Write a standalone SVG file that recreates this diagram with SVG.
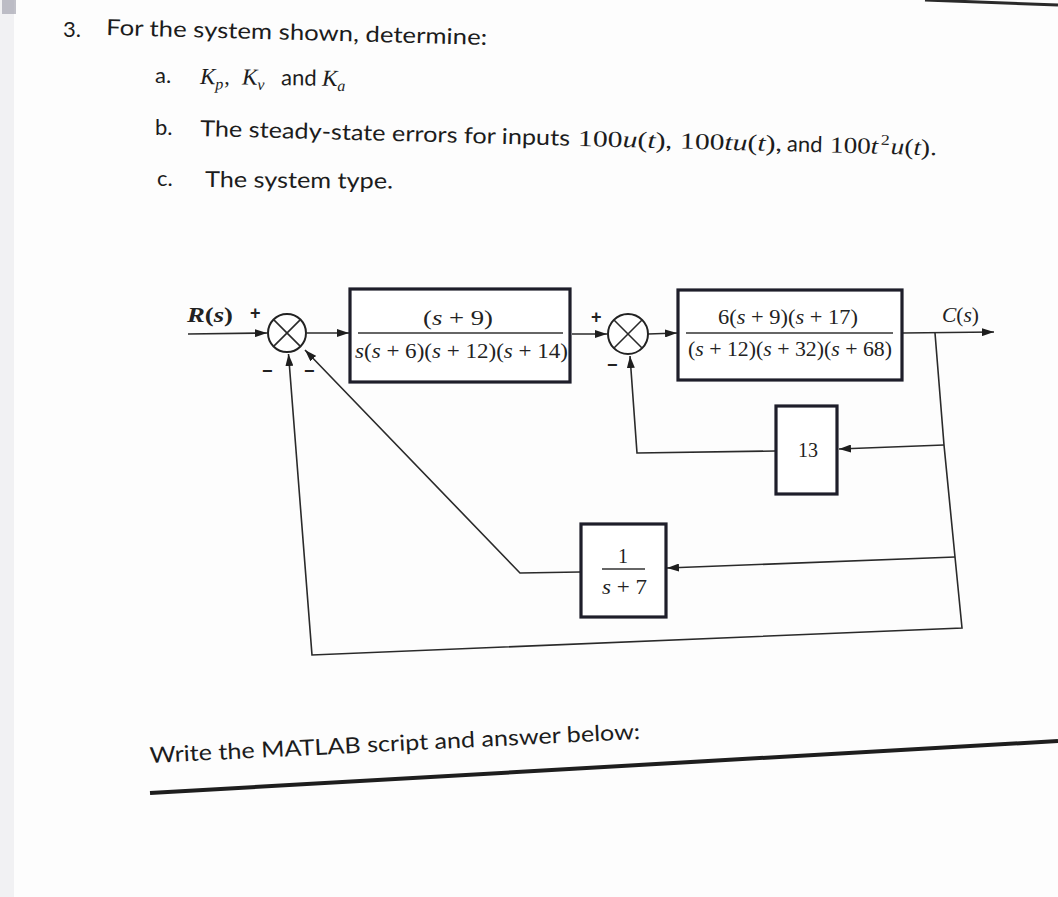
<svg xmlns="http://www.w3.org/2000/svg" width="1058" height="897" viewBox="0 0 1058 897">
<style>
.q{font-family:"Lato","Open Sans","Liberation Sans",sans-serif;font-size:22px;fill:#1c1c1c}
.m{font-family:"Liberation Serif","DejaVu Serif",serif;font-size:23px;fill:#1c1c1c}
.i{font-style:italic}
.bt{font-family:"Liberation Serif","Times New Roman",serif;font-size:20px;fill:#222}
.lbl{font-family:"Liberation Serif","Times New Roman",serif;font-size:20px;fill:#222}
.pm{font-family:"Liberation Sans",sans-serif;font-size:18px;font-weight:bold;fill:#222}
.box{fill:#fff;stroke:#1e1e2a;stroke-width:3.2}
.sum{fill:#fff;stroke:#222;stroke-width:2}
.w{fill:none;stroke:#2a2a2a;stroke-width:1.6}
.frac{stroke:#333;stroke-width:1.3}
</style>
<defs>
<marker id="ah" viewBox="0 0 12 8" refX="12" refY="4" markerWidth="12" markerHeight="8" markerUnits="userSpaceOnUse" orient="auto">
<path d="M0,0 L12,4 L0,8 Z" fill="#1e1e1e"/>
</marker>
</defs>
<rect width="1058" height="897" fill="#fdfdfd"/>
<rect x="0" y="0" width="14" height="897" fill="#e9e9ec" opacity="0.6"/>
<rect x="2" y="0" width="14" height="14" fill="#9a9aa6" opacity="0.6"/>
<line x1="925" y1="0" x2="1058" y2="5" stroke="#2a2a2a" stroke-width="3"/>

<g id="question">
<text class="q" x="63" y="37" font-size="20">3.</text>
<text class="q" x="106" y="35" transform="rotate(1.5 106 35)" textLength="381" lengthAdjust="spacingAndGlyphs">For the system shown, determine:</text>
<text class="q" x="155" y="83">a.</text>
<g transform="rotate(0.8 200 84)">
<text class="m i" x="200" y="84" font-size="25">K<tspan font-size="16" dy="5">p</tspan><tspan dy="-5" dx="1" font-style="normal" font-size="22">,</tspan></text>
<text class="m i" x="242" y="84" font-size="25">K<tspan font-size="16" dy="5">v</tspan></text>
<text class="q" x="281" y="84">and</text>
<text class="m i" x="322" y="84" font-size="25">K<tspan font-size="16" dy="5">a</tspan></text>
</g>
<text class="q" x="155" y="135">b.</text>
<g transform="rotate(1.5 200 136)">
<text class="q" x="200" y="136" textLength="370" lengthAdjust="spacingAndGlyphs">The steady-state errors for inputs</text>
<text class="m" x="578" y="136" textLength="94" lengthAdjust="spacingAndGlyphs">100<tspan class="i">u</tspan>(<tspan class="i">t</tspan>)<tspan class="q">,</tspan></text>
<text class="m" x="680" y="136" textLength="102" lengthAdjust="spacingAndGlyphs">100<tspan class="i">tu</tspan>(<tspan class="i">t</tspan>)<tspan class="q">,</tspan></text>
<text class="q" x="787" y="136">and</text>
<text class="m" x="830" y="136" textLength="107" lengthAdjust="spacingAndGlyphs">100<tspan class="i">t</tspan><tspan font-size="15" dy="-9" dx="2">2</tspan><tspan class="i" dy="9" dx="1">u</tspan>(<tspan class="i">t</tspan>).</text>
</g>
<text class="q" x="157" y="186">c.</text>
<text class="q" x="205" y="187" transform="rotate(0.5 205 187)" textLength="188" lengthAdjust="spacingAndGlyphs">The system type.</text>
</g>

<g id="connectors">
<line class="w" x1="188" y1="334" x2="267" y2="333" marker-end="url(#ah)"/>
<line class="w" x1="307" y1="333" x2="349" y2="333" marker-end="url(#ah)"/>
<line class="w" x1="572" y1="334" x2="607" y2="334" marker-end="url(#ah)"/>
<line class="w" x1="648" y1="334" x2="677" y2="333" marker-end="url(#ah)"/>
<line class="w" x1="903" y1="333" x2="994" y2="332" marker-end="url(#ah)"/>
<polyline class="w" points="935,333 944,445 955,557 962,628 312,655 288.5,354" marker-end="url(#ah)"/>
<line class="w" x1="944" y1="445" x2="839" y2="449" marker-end="url(#ah)"/>
<polyline class="w" points="775,451 637,453 630,356" marker-end="url(#ah)"/>
<line class="w" x1="955" y1="557" x2="667" y2="568" marker-end="url(#ah)"/>
<polyline class="w" points="580,572 520,573 305,350" marker-end="url(#ah)"/>
</g>

<g id="labels">
<text class="lbl" x="187" y="322" font-weight="bold" font-size="21" textLength="46" lengthAdjust="spacingAndGlyphs"><tspan font-style="italic">R</tspan>(<tspan font-style="italic">s</tspan>)</text>
<text class="lbl" x="942" y="322" textLength="37" lengthAdjust="spacingAndGlyphs"><tspan font-style="italic">C</tspan>(<tspan font-style="italic">s</tspan>)</text>
</g>

<g id="sum1">
<circle class="sum" cx="287" cy="333" r="19"/>
<line class="w" x1="273.6" y1="319.6" x2="300.4" y2="346.4"/>
<line class="w" x1="300.4" y1="319.6" x2="273.6" y2="346.4"/>
<text class="pm" x="250" y="319">+</text>
<text class="pm" x="262" y="377">−</text>
<text class="pm" x="304" y="377">−</text>
</g>

<g id="sum2">
<circle class="sum" cx="628" cy="334" r="20"/>
<line class="w" x1="614" y1="320" x2="642" y2="348"/>
<line class="w" x1="642" y1="320" x2="614" y2="348"/>
<text class="pm" x="591" y="323">+</text>
<text class="pm" x="607" y="371">−</text>
</g>

<g id="G1">
<rect class="box" x="350" y="289" width="220" height="93"/>
<text class="bt" x="458" y="325" text-anchor="middle" textLength="70" lengthAdjust="spacingAndGlyphs">(<tspan class="i">s</tspan> + 9)</text>
<line class="frac" x1="358" y1="333" x2="563" y2="333"/>
<text class="bt" x="355" y="358" textLength="213" lengthAdjust="spacingAndGlyphs"><tspan class="i">s</tspan>(<tspan class="i">s</tspan> + 6)(<tspan class="i">s</tspan> + 12)(<tspan class="i">s</tspan> + 14)</text>
</g>

<g id="G2">
<rect class="box" x="678" y="290" width="224" height="90"/>
<text class="bt" x="718" y="324" textLength="140" lengthAdjust="spacingAndGlyphs">6(<tspan class="i">s</tspan> + 9)(<tspan class="i">s</tspan> + 17)</text>
<line class="frac" x1="686" y1="333" x2="893" y2="333"/>
<text class="bt" x="688" y="356" textLength="204" lengthAdjust="spacingAndGlyphs">(<tspan class="i">s</tspan> + 12)(<tspan class="i">s</tspan> + 32)(<tspan class="i">s</tspan> + 68)</text>
</g>

<g id="H13">
<rect class="box" x="776" y="406" width="61" height="88"/>
<text class="bt" x="808" y="457" text-anchor="middle">13</text>
</g>

<g id="H2">
<rect class="box" x="581" y="524" width="85" height="93"/>
<text class="bt" x="623" y="563" text-anchor="middle">1</text>
<line class="frac" x1="602" y1="569" x2="645" y2="569"/>
<text class="bt" x="602" y="594" textLength="45" lengthAdjust="spacingAndGlyphs"><tspan class="i">s</tspan> + 7</text>
</g>

<g id="footer">
<text class="q" x="150" y="763" transform="rotate(-2.8 150 763)" textLength="491" lengthAdjust="spacingAndGlyphs">Write the MATLAB script and answer below:</text>
<line x1="150" y1="793" x2="1058" y2="741" stroke="#1e1e1e" stroke-width="4"/>
</g>
</svg>
